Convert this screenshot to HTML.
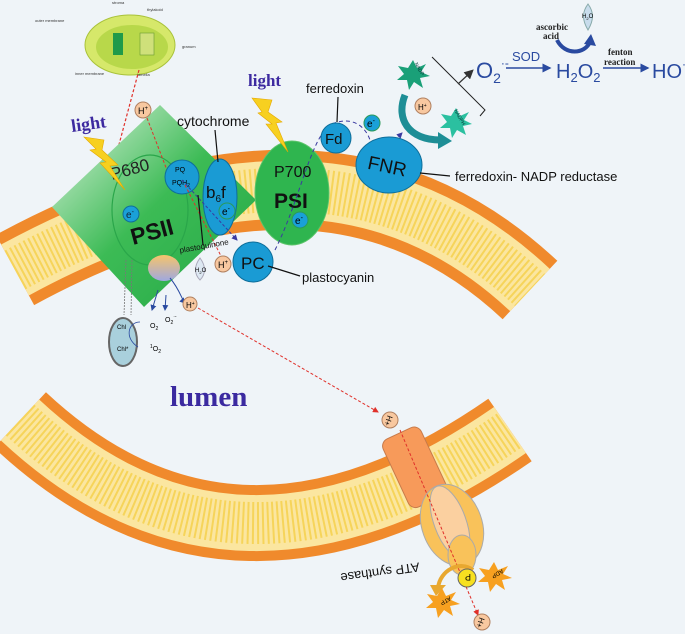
<!DOCTYPE html>
<html><head><meta charset="utf-8"><style>
html,body{margin:0;padding:0;background:#eff4f8;}
svg{display:block;font-family:"Liberation Sans",sans-serif;}
</style></head><body>
<svg width="685" height="634" viewBox="0 0 685 634" xmlns="http://www.w3.org/2000/svg">
<defs>
<linearGradient id="sq" x1="0" y1="0" x2="1" y2="1"><stop offset="0" stop-color="#e6f5e6"/><stop offset="0.5" stop-color="#3cbb55"/><stop offset="1" stop-color="#25a846"/></linearGradient>
<linearGradient id="pq" x1="0" y1="0" x2="0" y2="1"><stop offset="0" stop-color="#f6c46a"/><stop offset="1" stop-color="#9fa8e0"/></linearGradient>
<marker id="ar" markerWidth="6" markerHeight="6" refX="5" refY="3" orient="auto"><path d="M0,0 L6,3 L0,6z" fill="#e0302a"/></marker>
<marker id="ab" markerWidth="6" markerHeight="6" refX="5" refY="3" orient="auto"><path d="M0,0 L6,3 L0,6z" fill="#2a4aa0"/></marker>
<marker id="ap" markerWidth="6" markerHeight="6" refX="5" refY="3" orient="auto"><path d="M0,0 L6,3 L0,6z" fill="#3a3aa0"/></marker>
<marker id="ak" markerWidth="8" markerHeight="8" refX="6" refY="4" orient="auto"><path d="M0,0 L8,4 L0,8z" fill="#333"/></marker>
</defs>
<rect width="685" height="634" fill="#eff4f8"/>

<!-- chloroplast -->
<ellipse cx="130" cy="45" rx="45" ry="30" fill="#d6e86a" stroke="#a9c23a"/>
<ellipse cx="132" cy="47" rx="36" ry="22" fill="#b8d84a"/>
<rect x="113" y="33" width="10" height="22" fill="#1f9a4a"/>
<rect x="140" y="33" width="14" height="22" fill="#cfe07a" stroke="#6a9a30" stroke-width="0.6"/>
<g font-size="4" fill="#333"><text x="112" y="4">stroma</text><text x="147" y="11">thylakoid</text><text x="35" y="22">outer membrane</text><text x="182" y="48">granum</text><text x="75" y="75">inner membrane</text><text x="137" y="76">lamella</text></g>
<path d="M139,70 L110,178" stroke="#e0302a" stroke-width="1.2" stroke-dasharray="3,2" fill="none" marker-end="url(#ar)"/>

<!-- upper membrane -->
<path d="M15,270 Q327,100 530,290" stroke="#f08a2c" stroke-width="80" fill="none"/>
<path d="M15,270 Q327,100 530,290" stroke="#fbe6a0" stroke-width="58" fill="none"/>
<path d="M15,270 Q327,100 530,290" stroke="#f6d45a" stroke-width="44" fill="none" stroke-dasharray="2,3"/>
<!-- lower membrane -->
<path d="M20,420 Q235,621 510,430" stroke="#f08a2c" stroke-width="76" fill="none"/>
<path d="M20,420 Q235,621 510,430" stroke="#fbe6a0" stroke-width="56" fill="none"/>
<path d="M20,420 Q235,621 510,430" stroke="#f6d45a" stroke-width="42" fill="none" stroke-dasharray="2,3"/>

<!-- PSII square -->
<polygon points="52,207 160,105 256,200 144,307" fill="url(#sq)"/>
<ellipse cx="150" cy="210" rx="38" ry="55" fill="none" stroke="#2aa64a" stroke-width="1.2"/>
<text x="112" y="180" font-size="17" fill="#222" transform="rotate(-15 112 180)">P680</text>
<circle cx="131" cy="214" r="8" fill="#1aa0d8" stroke="#0e6e9a"/><text x="126" y="218" font-size="10" fill="#123">e<tspan font-size="7" dy="-4">-</tspan></text>
<text x="133" y="245" font-size="23" font-weight="bold" fill="#111" transform="rotate(-15 133 245)">PSII</text>

<!-- lightning 1 -->
<text x="72" y="132" font-family="Liberation Serif,serif" font-weight="bold" font-size="18" fill="#3d2aa0" transform="rotate(-8 72 132)">light</text>
<polygon points="84,137 104,140 102,150 118,165 110,166 125,190 100,163 106,162 90,150 96,149" fill="#f7d020" stroke="#e5a800" stroke-width="0.6"/>
<circle cx="143" cy="110" r="8" fill="#f8c8a0" stroke="#b08060"/><text x="138" y="114" font-size="9">H<tspan font-size="6" dy="-4">+</tspan></text>
<path d="M147,118 L170,178" stroke="#e0302a" stroke-width="1" stroke-dasharray="3,2" marker-end="url(#ar)"/>

<!-- PQ -->
<circle cx="182" cy="177" r="17" fill="#1a9bd4" stroke="#0e6e9a"/>
<text x="175" y="172" font-size="7">PQ</text><text x="172" y="185" font-size="7">PQH<tspan font-size="5" dy="2">2</tspan></text>
<!-- b6f -->
<ellipse cx="220" cy="197" rx="17" ry="38" fill="#1a9bd4" stroke="#0e6e9a"/>
<text x="206" y="198" font-size="17" fill="#111">b<tspan font-size="10" dy="4">6</tspan><tspan dy="-4">f</tspan></text>
<circle cx="227" cy="211" r="8" fill="#1aa0d8" stroke="#2a9a5a"/><text x="222" y="215" font-size="10">e<tspan font-size="7" dy="-4">-</tspan></text>
<text x="177" y="126" font-size="14" fill="#111">cytochrome</text>
<line x1="215" y1="130" x2="218" y2="162" stroke="#111" stroke-width="1.2"/>
<path d="M182,180 L237,240" stroke="#3a3aa0" stroke-dasharray="3,2" marker-end="url(#ap)"/>
<path d="M185,185 L224,262" stroke="#e0302a" stroke-dasharray="3,2" marker-end="url(#ar)"/>

<!-- PSI -->
<ellipse cx="292" cy="193" rx="37" ry="52" fill="#2fb54f" stroke="#5cc56a"/>
<text x="274" y="177" font-size="16" fill="#111">P700</text>
<text x="274" y="208" font-size="21" font-weight="bold" fill="#111">PSI</text>
<circle cx="300" cy="220" r="8" fill="#1aa0d8" stroke="#2a9a5a"/><text x="295" y="224" font-size="10">e<tspan font-size="7" dy="-4">-</tspan></text>
<text x="248" y="86" font-family="Liberation Serif,serif" font-weight="bold" font-size="17" fill="#3d2aa0">light</text>
<polygon points="252,98 272,100 268,112 282,122 276,123 288,152 266,124 272,124 258,113 262,112" fill="#f7d020" stroke="#e5a800" stroke-width="0.6"/>
<path d="M275,250 C 300,200 310,140 330,125 C 350,115 365,125 370,140 C 380,148 395,140 402,133" stroke="#3a3aa0" stroke-dasharray="4,3" fill="none" marker-end="url(#ap)"/>

<!-- Fd / FNR -->
<circle cx="336" cy="138" r="15" fill="#1a9bd4" stroke="#0e6e9a"/><text x="325" y="144" font-size="15" fill="#111">Fd</text>
<text x="306" y="93" font-size="13" fill="#111">ferredoxin</text>
<line x1="338" y1="97" x2="337" y2="122" stroke="#111" stroke-width="1.2"/>
<circle cx="372" cy="123" r="8" fill="#1aa0d8" stroke="#2a9a5a"/><text x="367" y="127" font-size="10">e<tspan font-size="7" dy="-4">-</tspan></text>
<ellipse cx="389" cy="165" rx="33" ry="28" fill="#1a9bd4" stroke="#0e6e9a"/>
<text x="368" y="173" font-size="19" fill="#111" transform="rotate(12 389 165)">FNR</text>
<line x1="420" y1="173" x2="450" y2="176" stroke="#111" stroke-width="1.2"/>
<text x="455" y="181" font-size="13" fill="#111">ferredoxin- NADP reductase</text>

<!-- NADP cycle -->
<path d="M405,95 C395,120 410,140 440,140" stroke="#1e8e96" stroke-width="7" fill="none"/>
<polygon points="438,132 452,141 438,149" fill="#1e8e96"/>
<polygon points="413,60 417,68 426,64 421,72 430,76 420,78 423,88 414,82 409,90 407,80 397,80 404,74 398,66 408,68" fill="#1aa078"/>
<text x="404" y="68" font-size="5" transform="rotate(60 413 75)" fill="#033">NADP</text>
<polygon points="456,108 460,116 469,112 464,120 472,124 463,126 466,135 457,130 452,138 450,128 440,128 447,122 441,114 451,116" fill="#2bc0a0"/>
<text x="445" y="118" font-size="5" transform="rotate(60 456 122)" fill="#033">NADPH</text>
<circle cx="423" cy="106" r="8" fill="#f8c8a0" stroke="#b08060"/><text x="418" y="110" font-size="8">H<tspan font-size="5" dy="-3">+</tspan></text>
<polyline points="432,57 485,110 480,116" fill="none" stroke="#222" stroke-width="1"/>
<line x1="458" y1="84" x2="472" y2="71" stroke="#333" stroke-width="1.2" marker-end="url(#ak)"/>

<!-- ROS chain -->
<g fill="#2a4aa0">
<text x="476" y="78" font-size="22">O<tspan font-size="14" dy="5">2</tspan><tspan font-size="12" dy="-16">·-</tspan></text>
<text x="512" y="61" font-size="13">SOD</text>
<text x="556" y="78" font-size="20">H<tspan font-size="13" dy="4">2</tspan><tspan dy="-4">O</tspan><tspan font-size="13" dy="4">2</tspan></text>
<text x="652" y="78" font-size="20">HO<tspan font-size="12" dy="-10">·</tspan></text>
</g>
<line x1="506" y1="68" x2="550" y2="68" stroke="#2a4aa0" stroke-width="1.5" marker-end="url(#ab)"/>
<line x1="603" y1="68" x2="648" y2="68" stroke="#2a4aa0" stroke-width="1.5" marker-end="url(#ab)"/>
<g font-family="Liberation Serif,serif" font-weight="bold" font-size="9" fill="#222">
<text x="536" y="30">ascorbic</text><text x="543" y="39">acid</text>
<text x="608" y="55">fenton</text><text x="604" y="65">reaction</text></g>
<path d="M557,40 C565,56 585,54 590,42" stroke="#2a4aa0" stroke-width="4" fill="none"/>
<polygon points="584,44 591,34 596,46" fill="#2a4aa0"/>
<path d="M588,4 C582,12 582,20 588,30 C594,20 594,12 588,4z" fill="#c8dcec" stroke="#8aa"/>
<text x="582" y="18" font-size="6">H<tspan font-size="4" dy="2">2</tspan><tspan dy="-2">O</tspan></text>

<!-- PC -->
<circle cx="253" cy="262" r="20" fill="#1a9bd4" stroke="#0e6e9a"/><text x="241" y="269" font-size="17" fill="#111">PC</text>
<line x1="268" y1="266" x2="300" y2="276" stroke="#111" stroke-width="1.2"/>
<text x="302" y="282" font-size="13" fill="#111">plastocyanin</text>
<circle cx="223" cy="264" r="8" fill="#f8c8a0" stroke="#b08060"/><text x="218" y="268" font-size="9">H<tspan font-size="6" dy="-4">+</tspan></text>
<line x1="198" y1="195" x2="203" y2="245" stroke="#111" stroke-width="1.2"/>
<text x="180" y="253" font-size="8" fill="#111" transform="rotate(-10 180 253)">plastoquinone</text>

<!-- water splitting -->
<ellipse cx="164" cy="268" rx="16" ry="13" fill="url(#pq)"/>
<path d="M200,258 C194,266 194,274 200,280 C206,274 206,266 200,258z" fill="#dde8f2" stroke="#aab"/>
<text x="195" y="272" font-size="6">H<tspan font-size="4" dy="2">2</tspan><tspan dy="-2">O</tspan></text>
<path d="M170,278 C180,290 182,300 185,303" stroke="#2a4aa0" fill="none" marker-end="url(#ab)"/>
<path d="M158,290 L152,310" stroke="#2a4aa0" fill="none" marker-end="url(#ab)"/>
<path d="M166,295 L165,310" stroke="#2a4aa0" fill="none" marker-end="url(#ab)"/>
<circle cx="190" cy="304" r="7" fill="#f8c8a0" stroke="#b08060"/><text x="186" y="308" font-size="8">H<tspan font-size="5" dy="-3">+</tspan></text>
<text x="165" y="322" font-size="7">O<tspan font-size="5" dy="2">2</tspan><tspan font-size="5" dy="-6">·-</tspan></text>
<line x1="198" y1="308" x2="378" y2="412" stroke="#e0302a" stroke-width="1" stroke-dasharray="3,2" marker-end="url(#ar)"/>
<line x1="126" y1="260" x2="124" y2="315" stroke="#777" stroke-width="0.8" stroke-dasharray="2,1"/>
<line x1="132" y1="260" x2="131" y2="315" stroke="#777" stroke-width="0.8" stroke-dasharray="2,1"/>
<ellipse cx="123" cy="342" rx="14" ry="24" fill="#a9d0dc" stroke="#666" stroke-width="2"/>
<text x="117" y="329" font-size="6">Chl</text><text x="117" y="351" font-size="6">Chl*</text>
<path d="M140,322 C128,322 124,338 138,347" stroke="#2a4aa0" fill="none" stroke-width="0.8"/>
<text x="150" y="328" font-size="7">O<tspan font-size="5" dy="2">2</tspan></text>
<text x="150" y="351" font-size="7"><tspan font-size="5" dy="-3">1</tspan><tspan dy="3">O</tspan><tspan font-size="5" dy="2">2</tspan></text>

<!-- lumen -->
<text x="170" y="406" font-family="Liberation Serif,serif" font-weight="bold" font-size="29" fill="#3b2aa0">lumen</text>

<!-- ATP synthase -->
<circle cx="390" cy="420" r="8" fill="#f8c8a0" stroke="#b08060"/><text x="386" y="424" font-size="8" transform="rotate(110 390 420)">H+</text>
<g transform="rotate(-25 415 470)"><rect x="395" y="430" width="42" height="75" rx="8" fill="#f79a5a" stroke="#c77a4a"/></g>
<ellipse cx="452" cy="525" rx="30" ry="42" fill="#f9c25a" stroke="#aaa" transform="rotate(-20 452 525)"/>
<ellipse cx="450" cy="522" rx="16" ry="38" fill="#fbd0a0" stroke="#aaa" transform="rotate(-20 450 522)"/>
<ellipse cx="462" cy="555" rx="14" ry="20" fill="#f9c25a" stroke="#aaa"/>
<line x1="400" y1="430" x2="478" y2="615" stroke="#e0302a" stroke-dasharray="3,2" marker-end="url(#ar)"/>
<text x="380" y="576" font-size="13" fill="#111" text-anchor="middle" transform="rotate(172 380 572)">ATP synthase</text>
<path d="M473,570 C460,560 440,570 438,588" stroke="#e8a830" stroke-width="4" fill="none"/>
<polygon points="430,585 446,585 436,596" fill="#e8a830"/>
<circle cx="467" cy="578" r="9" fill="#f7e020" stroke="#666"/><text x="463" y="582" font-size="9" transform="rotate(180 467 578)">P</text>
<polygon points="494,562 498,570 508,566 503,574 512,578 502,580 505,590 496,584 490,592 488,582 478,582 485,576 479,568 489,570" fill="#f7a020"/>
<text x="483" y="580" font-size="6" transform="rotate(150 494 577)">ADP</text>
<polygon points="442,588 446,596 456,592 451,600 460,604 450,606 453,616 444,610 438,618 436,608 426,608 433,602 427,594 437,596" fill="#f7a020"/>
<text x="432" y="605" font-size="6" transform="rotate(150 442 603)">ATP</text>
<circle cx="482" cy="622" r="8" fill="#f8c8a0" stroke="#b08060"/><text x="478" y="626" font-size="8" transform="rotate(110 482 622)">H+</text>
</svg>
</body></html>
